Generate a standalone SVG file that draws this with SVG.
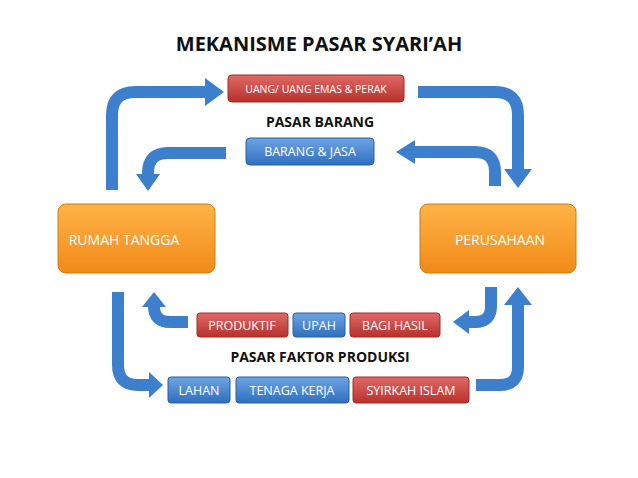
<svg xmlns="http://www.w3.org/2000/svg" width="638" height="478" viewBox="0 0 638 478">
<style>
.t{font-family:"Open Sans","Liberation Sans",sans-serif;fill:#fff;text-anchor:middle}
.h{font-family:"Open Sans","Liberation Sans",sans-serif;font-weight:bold;fill:#111;text-anchor:middle}
.band{fill:none;stroke:#3c7fcc;stroke-width:12}
.head{fill:#3c7fcc}
.red{fill:url(#gr);stroke:#a32a27;stroke-width:1}
.blue{fill:url(#gb);stroke:#2c5f9e;stroke-width:1}
.org{fill:url(#go);stroke:#d07a10;stroke-width:1}
</style>
<defs>
<linearGradient id="gr" x1="0" y1="0" x2="0" y2="1"><stop offset="0" stop-color="#e06a66"/><stop offset="1" stop-color="#b8302c"/></linearGradient>
<linearGradient id="gb" x1="0" y1="0" x2="0" y2="1"><stop offset="0" stop-color="#6ea4e4"/><stop offset="1" stop-color="#2f6fbf"/></linearGradient>
<linearGradient id="go" x1="0" y1="0" x2="0" y2="1"><stop offset="0" stop-color="#ffb347"/><stop offset="1" stop-color="#f08a18"/></linearGradient>
</defs>
<rect width="638" height="478" fill="#fff"/>
<text class="h" x="319" y="51" font-size="20">MEKANISME PASAR SYARI’AH</text>
<g id="connectors">
<path class="band" d="M112,190 V115 Q112,92 135,92 H206"/><polygon class="head" points="205,78 224,92 205,106"/>
<path class="band" d="M418,92 H495 Q518,92 518,115 V170"/><polygon class="head" points="504,169 518,188 532,169"/>
<path class="band" d="M226,153 H168 Q148,153 148,173 V175"/><polygon class="head" points="136,174 148,191 160,174"/>
<path class="band" d="M495,186 V172 Q495,152 475,152 H414"/><polygon class="head" points="415,140 396,152 415,164"/>
<path class="band" d="M118,292 V365 Q118,385 138,385 H150"/><polygon class="head" points="149,372 163,385 149,398"/>
<path class="band" d="M188,322 H170 Q154,322 154,306"/><polygon class="head" points="142,307 154,292 166,307"/>
<path class="band" d="M491,287 V306 Q491,322 475,322 H468"/><polygon class="head" points="469,310 453,322 469,334"/>
<path class="band" d="M476,385 H500 Q518,385 518,367 V304"/><polygon class="head" points="504,305 518,287 532,305"/>
</g>
<g id="uang"><rect class="red" x="228" y="75" width="176" height="27" rx="4"/><text class="t" x="316" y="93" font-size="10.5">UANG/ UANG EMAS &amp; PERAK</text></g>
<text class="h" x="320" y="127" font-size="14">PASAR BARANG</text>
<g id="barang"><rect class="blue" x="246" y="138" width="128" height="27" rx="4"/><text class="t" x="310" y="156" font-size="12.5">BARANG &amp; JASA</text></g>
<g id="rumah"><rect class="org" x="58" y="204" width="157" height="69" rx="8"/><text class="t" x="124" y="245" font-size="14">RUMAH TANGGA</text></g>
<g id="perusahaan"><rect class="org" x="420" y="204" width="156" height="69" rx="8"/><text class="t" x="500" y="245" font-size="14">PERUSAHAAN</text></g>
<g id="produktif"><rect class="red" x="197" y="313" width="91" height="24" rx="3"/><text class="t" x="242" y="330" font-size="12.5">PRODUKTIF</text></g>
<g id="upah"><rect class="blue" x="293" y="313" width="52" height="24" rx="3"/><text class="t" x="319" y="330" font-size="12.5">UPAH</text></g>
<g id="bagi"><rect class="red" x="350" y="313" width="90" height="24" rx="3"/><text class="t" x="395" y="330" font-size="12.5">BAGI HASIL</text></g>
<text class="h" x="320" y="362" font-size="14">PASAR FAKTOR PRODUKSI</text>
<g id="lahan"><rect class="blue" x="168" y="377" width="62" height="26" rx="3"/><text class="t" x="199" y="395" font-size="12.5">LAHAN</text></g>
<g id="tenaga"><rect class="blue" x="236" y="377" width="113" height="26" rx="3"/><text class="t" x="292" y="395" font-size="12.5">TENAGA KERJA</text></g>
<g id="syirkah"><rect class="red" x="353" y="377" width="116" height="26" rx="3"/><text class="t" x="411" y="395" font-size="12.5">SYIRKAH ISLAM</text></g>
</svg>
